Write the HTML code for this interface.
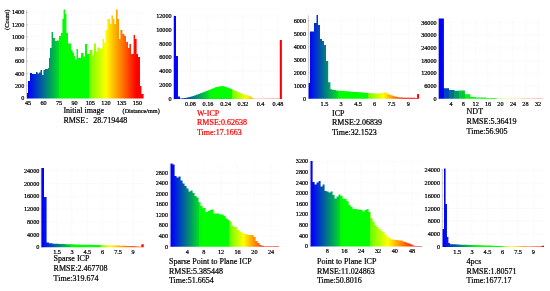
<!DOCTYPE html>
<html lang="en"><head><meta charset="utf-8"><title>Registration error histograms</title>
<style>html,body{margin:0;padding:0;background:#fff}body{width:550px;height:291px;overflow:hidden}svg{display:block}text{font-family:"Liberation Serif","Noto Serif CJK SC",serif;fill:#000;stroke:#000;stroke-width:0.22px;paint-order:stroke}.t{font-size:6.2px}.c{font-size:8px}.g{stroke:#f7f7f7;stroke-width:0.6}.a{stroke:#a8a8a8;stroke-width:0.6}</style></head><body>
<svg width="550" height="291" viewBox="0 0 550 291">
<defs>
<linearGradient id="gp1" gradientUnits="userSpaceOnUse" x1="27" y1="0" x2="143.6" y2="0">
<stop offset="0" stop-color="#0000ff"/>
<stop offset="0.012" stop-color="#0000ff"/>
<stop offset="0.277" stop-color="#00e01f"/>
<stop offset="0.277" stop-color="#00f608"/>
<stop offset="0.317" stop-color="#00ff00"/>
<stop offset="0.5292" stop-color="#00ff00"/>
<stop offset="0.5292" stop-color="#68ff00"/>
<stop offset="0.675" stop-color="#ffff00"/>
<stop offset="0.9383" stop-color="#ff0000"/>
<stop offset="1" stop-color="#ff0000"/>
</linearGradient>
<linearGradient id="gp2" gradientUnits="userSpaceOnUse" x1="174" y1="0" x2="281.6" y2="0">
<stop offset="0" stop-color="#0000ff"/>
<stop offset="0.012" stop-color="#0000ff"/>
<stop offset="0.3216" stop-color="#00e01f"/>
<stop offset="0.3216" stop-color="#00f608"/>
<stop offset="0.3616" stop-color="#00ff00"/>
<stop offset="0.5344" stop-color="#00ff00"/>
<stop offset="0.5344" stop-color="#68ff00"/>
<stop offset="0.6719" stop-color="#ffff00"/>
<stop offset="0.9108" stop-color="#ff0000"/>
<stop offset="1" stop-color="#ff0000"/>
</linearGradient>
<linearGradient id="gp3" gradientUnits="userSpaceOnUse" x1="308" y1="0" x2="419" y2="0">
<stop offset="0" stop-color="#0000ff"/>
<stop offset="0.012" stop-color="#0000ff"/>
<stop offset="0.2703" stop-color="#00e01f"/>
<stop offset="0.2703" stop-color="#00f608"/>
<stop offset="0.3103" stop-color="#00ff00"/>
<stop offset="0.5378" stop-color="#00ff00"/>
<stop offset="0.5378" stop-color="#68ff00"/>
<stop offset="0.6802" stop-color="#ffff00"/>
<stop offset="0.8739" stop-color="#ff0000"/>
<stop offset="1" stop-color="#ff0000"/>
</linearGradient>
<linearGradient id="gp4" gradientUnits="userSpaceOnUse" x1="439" y1="0" x2="543" y2="0">
<stop offset="0" stop-color="#0000ff"/>
<stop offset="0.0471" stop-color="#0000ff"/>
<stop offset="0.0471" stop-color="#0044bd"/>
<stop offset="0.0971" stop-color="#0044bd"/>
<stop offset="0.0971" stop-color="#006e91"/>
<stop offset="0.149" stop-color="#006e91"/>
<stop offset="0.149" stop-color="#009b64"/>
<stop offset="0.1962" stop-color="#009b64"/>
<stop offset="0.1962" stop-color="#00c837"/>
<stop offset="0.249" stop-color="#00c837"/>
<stop offset="0.249" stop-color="#00f60a"/>
<stop offset="0.3019" stop-color="#00f60a"/>
<stop offset="0.3019" stop-color="#00ff00"/>
<stop offset="0.349" stop-color="#00ff00"/>
<stop offset="0.5481" stop-color="#00ff00"/>
<stop offset="0.5481" stop-color="#68ff00"/>
<stop offset="0.6731" stop-color="#ffff00"/>
<stop offset="1.0481" stop-color="#ff0000"/>
<stop offset="1" stop-color="#ff0000"/>
</linearGradient>
<linearGradient id="gp5" gradientUnits="userSpaceOnUse" x1="41.4" y1="0" x2="143.6" y2="0">
<stop offset="0" stop-color="#0000ff"/>
<stop offset="0.012" stop-color="#0000ff"/>
<stop offset="0.2935" stop-color="#00e01f"/>
<stop offset="0.2935" stop-color="#00f608"/>
<stop offset="0.3335" stop-color="#00ff00"/>
<stop offset="0.5734" stop-color="#00ff00"/>
<stop offset="0.5734" stop-color="#68ff00"/>
<stop offset="0.6663" stop-color="#ffff00"/>
<stop offset="1.0235" stop-color="#ff0000"/>
<stop offset="1" stop-color="#ff0000"/>
</linearGradient>
<linearGradient id="gp6" gradientUnits="userSpaceOnUse" x1="170.6" y1="0" x2="270" y2="0">
<stop offset="0" stop-color="#0000ff"/>
<stop offset="0.012" stop-color="#0000ff"/>
<stop offset="0.2887" stop-color="#00e01f"/>
<stop offset="0.2887" stop-color="#00f608"/>
<stop offset="0.3287" stop-color="#00ff00"/>
<stop offset="0.5905" stop-color="#00ff00"/>
<stop offset="0.5905" stop-color="#68ff00"/>
<stop offset="0.7324" stop-color="#ffff00"/>
<stop offset="0.9799" stop-color="#ff0000"/>
<stop offset="1" stop-color="#ff0000"/>
</linearGradient>
<linearGradient id="gp7" gradientUnits="userSpaceOnUse" x1="310.6" y1="0" x2="418" y2="0">
<stop offset="0" stop-color="#0000ff"/>
<stop offset="0.012" stop-color="#0000ff"/>
<stop offset="0.2775" stop-color="#00e01f"/>
<stop offset="0.2775" stop-color="#00f608"/>
<stop offset="0.3175" stop-color="#00ff00"/>
<stop offset="0.5568" stop-color="#00ff00"/>
<stop offset="0.5568" stop-color="#68ff00"/>
<stop offset="0.7188" stop-color="#ffff00"/>
<stop offset="0.9814" stop-color="#ff0000"/>
<stop offset="1" stop-color="#ff0000"/>
</linearGradient>
<linearGradient id="gp8" gradientUnits="userSpaceOnUse" x1="442.6" y1="0" x2="544" y2="0">
<stop offset="0" stop-color="#0000ff"/>
<stop offset="0.012" stop-color="#0000ff"/>
<stop offset="0.2959" stop-color="#00e01f"/>
<stop offset="0.2959" stop-color="#00f608"/>
<stop offset="0.3359" stop-color="#00ff00"/>
<stop offset="0.5917" stop-color="#00ff00"/>
<stop offset="0.5917" stop-color="#68ff00"/>
<stop offset="0.6844" stop-color="#ffff00"/>
<stop offset="0.9408" stop-color="#ff0000"/>
<stop offset="1" stop-color="#ff0000"/>
</linearGradient>
</defs>
<rect width="550" height="291" fill="#fff"/>
<g id="p1">
<path class="g" fill="none" d="M26.5 12.4H144M26.5 24.6H144M26.5 36.8H144M26.5 49H144M26.5 61.3H144M26.5 73.5H144M26.5 85.8H144M28 9.9V98.6M43.5 9.9V98.6M59 9.9V98.6M74.6 9.9V98.6M90.3 9.9V98.6M106 9.9V98.6M121.6 9.9V98.6M137.4 9.9V98.6"/>
<path class="a" fill="none" d="M26.5 9.9V98.6M26.5 12.4h1.2M26.5 24.6h1.2M26.5 36.8h1.2M26.5 49h1.2M26.5 61.3h1.2M26.5 73.5h1.2M26.5 85.8h1.2M26.5 98.3h1.2"/>
<path fill="url(#gp1)" d="M27 98.6L27 93L28 93L28 81L30 81L30 73L32 73L32 74L36 74L36 72L37.5 72L37.5 73.5L39 73.5L39 72.5L40.5 72.5L40.5 70L42 70L42 75L43.5 75L43.5 70L45 70L45 69L48 69L48 68L49 68L49 58L50 58L50 48L51.6 48L51.6 32L53 32L53 38L55 38L55 41L57 41L57 40.5L59 40.5L59 36L61 36L61 33L62.4 33L62.4 19L63.6 19L63.6 9.6L65 9.6L65 14L66.4 14L66.4 33L68 33L68 43.5L71 43.5L71 50L72.5 50L72.5 52.5L74 52.5L74 56L75 56L75 59.5L76.5 59.5L76.5 49L78 49L78 58L81 58L81 53L83.5 53L83.5 56.5L85 56.5L85 44L87 44L87 54L89.5 54L89.5 50L92.5 50L92.5 55.5L94 55.5L94 43.5L96 43.5L96 51.5L97.5 51.5L97.5 47.5L100 47.5L100 48.5L102.5 48.5L102.5 39L104 39L104 42.5L105.6 42.5L105.6 30L107.4 30L107.4 19L110 19L110 24L111.4 24L111.4 15.6L113 15.6L113 19L114.4 19L114.4 24L116 24L116 9.6L117.6 9.6L117.6 19L119 19L119 39L120.4 39L120.4 30L122.4 30L122.4 34L124.4 34L124.4 36L126 36L126 42L128 42L128 48L129.4 48L129.4 44L131 44L131 54L133.6 54L133.6 35L135 35L135 39L136.6 39L136.6 54L138 54L138 57L140 57L140 86L141.4 86L141.4 94L143.6 94L143.6 98.6Z"/>
<text class="t" text-anchor="end" x="24.3" y="14.45">1400</text>
<text class="t" text-anchor="end" x="24.3" y="26.65">1200</text>
<text class="t" text-anchor="end" x="24.3" y="38.85">1000</text>
<text class="t" text-anchor="end" x="24.3" y="51.05">800</text>
<text class="t" text-anchor="end" x="24.3" y="63.35">600</text>
<text class="t" text-anchor="end" x="24.3" y="75.55">400</text>
<text class="t" text-anchor="end" x="24.3" y="87.85">200</text>
<text class="t" text-anchor="end" x="24.3" y="100.35">0</text>
<text class="t" text-anchor="middle" x="28" y="105.25">45</text>
<text class="t" text-anchor="middle" x="43.5" y="105.25">60</text>
<text class="t" text-anchor="middle" x="59" y="105.25">75</text>
<text class="t" text-anchor="middle" x="74.6" y="105.25">90</text>
<text class="t" text-anchor="middle" x="90.3" y="105.25">105</text>
<text class="t" text-anchor="middle" x="106" y="105.25">120</text>
<text class="t" text-anchor="middle" x="121.6" y="105.25">135</text>
<text class="t" text-anchor="middle" x="137.4" y="105.25">150</text>
<text class="c" x="63.4" y="113" style="fill:#000;stroke:#000">Initial image</text>
<text class="c" x="63.4" y="123" style="fill:#000;stroke:#000">RMSE：28.719448</text>
</g>
<g id="p2">
<path class="g" fill="none" d="M173.5 16H282M173.5 29.8H282M173.5 43.6H282M173.5 57.4H282M173.5 71.2H282M173.5 85H282M190.5 16.3V99M208 16.3V99M225.6 16.3V99M243 16.3V99M260.5 16.3V99M278 16.3V99"/>
<path class="a" fill="none" d="M173.5 16.3V99M173.5 16h1.2M173.5 29.8h1.2M173.5 43.6h1.2M173.5 57.4h1.2M173.5 71.2h1.2M173.5 85h1.2M173.5 99.3h1.2"/>
<path fill="url(#gp2)" d="M174 99L174 16L176 16L176 56L178 56L178 96.4L180 96.4L180 98.54L181 98.54L181 98.42L182 98.42L182 98.3L183 98.3L183 98.18L184 98.18L184 98.06L185 98.06L185 97.9L186 97.9L186 97.7L187 97.7L187 97.5L188 97.5L188 97.3L189 97.3L189 97.1L190 97.1L190 96.84L191 96.84L191 96.52L192 96.52L192 96.2L193 96.2L193 95.88L194 95.88L194 95.56L195 95.56L195 95.21L196 95.21L196 94.83L197 94.83L197 94.45L198 94.45L198 94.07L199 94.07L199 93.69L200 93.69L200 93.31L201 93.31L201 92.94L202 92.94L202 92.56L203 92.56L203 92.19L204 92.19L204 91.81L205 91.81L205 91.44L206 91.44L206 91.06L207 91.06L207 90.69L208 90.69L208 90.29L209 90.29L209 89.86L210 89.86L210 89.44L211 89.44L211 89.01L212 89.01L212 88.58L213 88.58L213 88.15L214 88.15L214 87.72L215 87.72L215 87.37L216 87.37L216 87.1L217 87.1L217 86.83L218 86.83L218 86.62L219 86.62L219 86.45L220 86.45L220 86.28L221 86.28L221 86.15L222.2 86.15L222.2 86.05L223.4 86.05L223.4 86.19L224.47 86.19L224.47 86.56L225.55 86.56L225.55 86.94L226.62 86.94L226.62 87.31L227.7 87.31L227.7 87.71L228.76 87.71L228.76 88.13L229.82 88.13L229.82 88.55L230.88 88.55L230.88 88.97L231.94 88.97L231.94 89.39L233 89.39L233 89.82L233.93 89.82L233.93 90.25L234.87 90.25L234.87 90.68L235.8 90.68L235.8 91.12L236.73 91.12L236.73 91.55L237.67 91.55L237.67 91.98L238.6 91.98L238.6 92.41L239.68 92.41L239.68 92.83L240.76 92.83L240.76 93.25L241.84 93.25L241.84 93.67L242.92 93.67L242.92 94.09L244 94.09L244 94.42L245 94.42L245 94.65L246 94.65L246 94.88L247 94.88L247 95.2L248.25 95.2L248.25 95.6L249.5 95.6L249.5 96.1L250.5 96.1L250.5 96.7L251.5 96.7L251.5 97.35L252.25 97.35L252.25 98.05L253 98.05L253 98.46L254 98.46L254 98.58L255 98.58L255 98.69L256 98.69L256 98.78L279.8 98.78L279.8 40L281.9 40L281.9 99Z"/>
<text class="t" text-anchor="end" x="171.6" y="18.05">12000</text>
<text class="t" text-anchor="end" x="171.6" y="31.85">10000</text>
<text class="t" text-anchor="end" x="171.6" y="45.65">8000</text>
<text class="t" text-anchor="end" x="171.6" y="59.45">6000</text>
<text class="t" text-anchor="end" x="171.6" y="73.25">4000</text>
<text class="t" text-anchor="end" x="171.6" y="87.05">2000</text>
<text class="t" text-anchor="end" x="171.6" y="101.35">0</text>
<text class="t" text-anchor="middle" x="190.5" y="105.65">0.08</text>
<text class="t" text-anchor="middle" x="208" y="105.65">0.16</text>
<text class="t" text-anchor="middle" x="225.6" y="105.65">0.24</text>
<text class="t" text-anchor="middle" x="243" y="105.65">0.32</text>
<text class="t" text-anchor="middle" x="260.5" y="105.65">0.4</text>
<text class="t" text-anchor="middle" x="278" y="105.65">0.48</text>
<text class="c" x="197" y="115.8" style="fill:#ff0000;stroke:#ff0000">W-ICP</text>
<text class="c" x="197" y="125.2" style="fill:#ff0000;stroke:#ff0000">RMSE:0.62638</text>
<text class="c" x="197" y="134.6" style="fill:#ff0000;stroke:#ff0000">Time:17.1663</text>
</g>
<g id="p3">
<path class="g" fill="none" d="M308.4 20.6H419.5M308.4 33.7H419.5M308.4 46.7H419.5M308.4 59.7H419.5M308.4 72.8H419.5M308.4 85.8H419.5M324.4 15.3V98.7M341 15.3V98.7M358 15.3V98.7M374.5 15.3V98.7M391.6 15.3V98.7M408.4 15.3V98.7"/>
<path class="a" fill="none" d="M308.4 15.3V98.7M308.4 20.6h1.2M308.4 33.7h1.2M308.4 46.7h1.2M308.4 59.7h1.2M308.4 72.8h1.2M308.4 85.8h1.2M308.4 98.8h1.2"/>
<path fill="url(#gp3)" d="M308.6 98.7L308.6 83L310 83L310 31.5L314 31.5L314 23L316.5 23L316.5 15L318 15L318 25L320 25L320 39L322 39L322 41L324 41L324 45L326 45L326 61L328.2 61L328.2 82.2L330.4 82.2L330.4 89.3L332 89.3L332 89.77L334 89.77L334 90.1L336 90.1L336 90.43L338 90.43L338 90.69L340.25 90.69L340.25 90.86L342.5 90.86L342.5 91.04L344.75 91.04L344.75 91.21L347 91.21L347 91.37L348.83 91.37L348.83 91.5L350.67 91.5L350.67 91.63L352.5 91.63L352.5 91.77L354.33 91.77L354.33 91.9L356.17 91.9L356.17 92.03L358 92.03L358 92.19L360 92.19L360 92.37L362 92.37L362 92.55L364 92.55L364 92.73L366 92.73L366 92.91L368 92.91L368 93.06L370 93.06L370 93.19L372 93.19L372 93.31L374 93.31L374 93.44L376 93.44L376 93.42L378.5 93.42L378.5 93.28L381 93.28L381 92.9L382.8 92.9L382.8 92.3L384.6 92.3L384.6 92.55L386.8 92.55L386.8 93.65L389 93.65L389 94.67L391.2 94.67L391.2 95.62L393.4 95.62L393.4 96.35L395.55 96.35L395.55 96.85L397.7 96.85L397.7 97.2L399.47 97.2L399.47 97.4L401.23 97.4L401.23 97.6L403 97.6L403 97.71L405.01 97.71L405.01 97.74L407.03 97.74L407.03 97.77L409.04 97.77L409.04 97.8L411.06 97.8L411.06 97.83L413.07 97.83L413.07 97.86L415.09 97.86L415.09 97.89L417.1 97.89L417.1 94L419 94L419 98.7Z"/>
<text class="t" text-anchor="end" x="306" y="22.65">6000</text>
<text class="t" text-anchor="end" x="306" y="35.75">5000</text>
<text class="t" text-anchor="end" x="306" y="48.75">4000</text>
<text class="t" text-anchor="end" x="306" y="61.75">3000</text>
<text class="t" text-anchor="end" x="306" y="74.85">2000</text>
<text class="t" text-anchor="end" x="306" y="87.85">1000</text>
<text class="t" text-anchor="end" x="306" y="100.85">0</text>
<text class="t" text-anchor="middle" x="324.4" y="105.55">1.5</text>
<text class="t" text-anchor="middle" x="341" y="105.55">3</text>
<text class="t" text-anchor="middle" x="358" y="105.55">4.5</text>
<text class="t" text-anchor="middle" x="374.5" y="105.55">6</text>
<text class="t" text-anchor="middle" x="391.6" y="105.55">7.5</text>
<text class="t" text-anchor="middle" x="408.4" y="105.55">9</text>
<text class="c" x="332" y="115.6" style="fill:#000;stroke:#000">ICP</text>
<text class="c" x="332" y="125.1" style="fill:#000;stroke:#000">RMSE:2.06839</text>
<text class="c" x="332" y="134.6" style="fill:#000;stroke:#000">Time:32.1523</text>
</g>
<g id="p4">
<path class="g" fill="none" d="M438.8 22.6H544M438.8 35.3H544M438.8 48H544M438.8 60.7H544M438.8 73.4H544M438.8 86H544M451 18.7V98.8M463.4 18.7V98.8M475.7 18.7V98.8M488 18.7V98.8M500.4 18.7V98.8M513 18.7V98.8M525.4 18.7V98.8M538 18.7V98.8"/>
<path class="a" fill="none" d="M438.8 18.7V98.8M438.8 22.6h1.2M438.8 35.3h1.2M438.8 48h1.2M438.8 60.7h1.2M438.8 73.4h1.2M438.8 86h1.2M438.8 98.7h1.2"/>
<path fill="url(#gp4)" d="M438.8 98.8L438.8 18.4L443.9 18.4L443.9 88.2L449.1 88.2L449.1 90L454.5 90L454.5 90.7L459.4 90.7L459.4 90.4L464.9 90.4L464.9 94.2L470.4 94.2L470.4 96.9L475.3 96.9L475.3 97.5L486 97.5L486 98L497 98L497 98.45L542.7 98.45L542.7 98.8Z"/>
<text class="t" text-anchor="end" x="436.6" y="24.65">36000</text>
<text class="t" text-anchor="end" x="436.6" y="37.35">30000</text>
<text class="t" text-anchor="end" x="436.6" y="50.05">24000</text>
<text class="t" text-anchor="end" x="436.6" y="62.75">18000</text>
<text class="t" text-anchor="end" x="436.6" y="75.45">12000</text>
<text class="t" text-anchor="end" x="436.6" y="88.05">6000</text>
<text class="t" text-anchor="end" x="436.6" y="100.75">0</text>
<text class="t" text-anchor="middle" x="451" y="106.05">4</text>
<text class="t" text-anchor="middle" x="463.4" y="106.05">8</text>
<text class="t" text-anchor="middle" x="475.7" y="106.05">12</text>
<text class="t" text-anchor="middle" x="488" y="106.05">16</text>
<text class="t" text-anchor="middle" x="500.4" y="106.05">20</text>
<text class="t" text-anchor="middle" x="513" y="106.05">24</text>
<text class="t" text-anchor="middle" x="525.4" y="106.05">28</text>
<text class="t" text-anchor="middle" x="538" y="106.05">32</text>
<text class="c" x="466.6" y="113.6" style="fill:#000;stroke:#000">NDT</text>
<text class="c" x="466.6" y="123.7" style="fill:#000;stroke:#000">RMSE:5.36419</text>
<text class="c" x="466.6" y="133.7" style="fill:#000;stroke:#000">Time:56.905</text>
</g>
<g id="p5">
<path class="g" fill="none" d="M41.2 170.7H144M41.2 183.6H144M41.2 196.4H144M41.2 209.1H144M41.2 221.8H144M41.2 234.6H144M57 168.3V247.2M72 168.3V247.2M87.3 168.3V247.2M102.6 168.3V247.2M118 168.3V247.2M133 168.3V247.2"/>
<path class="a" fill="none" d="M41.2 168.3V247.2M41.2 170.7h1.2M41.2 183.6h1.2M41.2 196.4h1.2M41.2 209.1h1.2M41.2 221.8h1.2M41.2 234.6h1.2M41.2 247.4h1.2"/>
<path fill="url(#gp5)" d="M41.4 247.2L41.4 168L44 168L44 197L46.6 197L46.6 242.4L49 242.4L49 243.35L52.5 243.35L52.5 243.65L56 243.65L56 243.85L59 243.85L59 243.95L62 243.95L62 244.05L65 244.05L65 244.15L68 244.15L68 244.25L71 244.25L71 244.35L74 244.35L74 244.45L77 244.45L77 244.55L80 244.55L80 244.63L83 244.63L83 244.7L86 244.7L86 244.77L89 244.77L89 244.83L92 244.83L92 244.9L95 244.9L95 244.97L98 244.97L98 245.04L101.14 245.04L101.14 245.13L104.29 245.13L104.29 245.21L107.43 245.21L107.43 245.3L110.57 245.3L110.57 245.39L113.71 245.39L113.71 245.47L116.86 245.47L116.86 245.56L120 245.56L120 245.66L123.25 245.66L123.25 245.79L126.5 245.79L126.5 245.91L129.75 245.91L129.75 246.04L133 246.04L133 246.21L135.77 246.21L135.77 246.43L138.53 246.43L138.53 246.64L141.3 246.64L141.3 244.2L143.7 244.2L143.7 247.2Z"/>
<text class="t" text-anchor="end" x="39.4" y="172.75">24000</text>
<text class="t" text-anchor="end" x="39.4" y="185.65">20000</text>
<text class="t" text-anchor="end" x="39.4" y="198.45">16000</text>
<text class="t" text-anchor="end" x="39.4" y="211.15">12000</text>
<text class="t" text-anchor="end" x="39.4" y="223.85">8000</text>
<text class="t" text-anchor="end" x="39.4" y="236.65">4000</text>
<text class="t" text-anchor="end" x="39.4" y="249.45">0</text>
<text class="t" text-anchor="middle" x="57" y="254.05">1.5</text>
<text class="t" text-anchor="middle" x="72" y="254.05">3</text>
<text class="t" text-anchor="middle" x="87.3" y="254.05">4.5</text>
<text class="t" text-anchor="middle" x="102.6" y="254.05">6</text>
<text class="t" text-anchor="middle" x="118" y="254.05">7.5</text>
<text class="t" text-anchor="middle" x="133" y="254.05">9</text>
<text class="c" x="53.6" y="261.4" style="fill:#000;stroke:#000">Sparse ICP</text>
<text class="c" x="53.6" y="271.2" style="fill:#000;stroke:#000">RMSE:2.467708</text>
<text class="c" x="53.6" y="280.8" style="fill:#000;stroke:#000">Time:319.674</text>
</g>
<g id="p6">
<path class="g" fill="none" d="M170.2 172.6H279M170.2 183.2H279M170.2 193.8H279M170.2 204.3H279M170.2 214.8H279M170.2 225.4H279M170.2 236H279M187.4 163.9V246.8M203.8 163.9V246.8M221 163.9V246.8M237.6 163.9V246.8M254.4 163.9V246.8M271 163.9V246.8"/>
<path class="a" fill="none" d="M170.2 163.9V246.8M170.2 172.6h1.2M170.2 183.2h1.2M170.2 193.8h1.2M170.2 204.3h1.2M170.2 214.8h1.2M170.2 225.4h1.2M170.2 236h1.2M170.2 246.7h1.2"/>
<path fill="url(#gp6)" d="M170.6 246.8L170.6 163.6L172.6 163.6L172.6 164.6L174.6 164.6L174.6 176L176.6 176L176.6 177.6L178.6 177.6L178.6 176.6L180.6 176.6L180.6 180.4L182.6 180.4L182.6 183.4L184.6 183.4L184.6 186L186.6 186L186.6 188.4L188.6 188.4L188.6 191.6L190.6 191.6L190.6 190.4L192.6 190.4L192.6 193L194.6 193L194.6 196L196.6 196L196.6 197.6L198.6 197.6L198.6 202.2L200.6 202.2L200.6 206L202.6 206L202.6 208L205.6 208L205.6 212L207.6 212L207.6 211L209.6 211L209.6 210L211.6 210L211.6 209.4L213.6 209.4L213.6 213.4L219.6 213.4L219.6 214.5L223.6 214.5L223.6 216L225.6 216L225.6 218.4L227.6 218.4L227.6 219.8L229.6 219.8L229.6 221.4L231.6 221.4L231.6 225.4L233.6 225.4L233.6 226.8L237 226.8L237 230L239.6 230L239.6 231.4L241.6 231.4L241.6 232.8L243.6 232.8L243.6 234L247.6 234L247.6 235L253.6 235L253.6 237L255.6 237L255.6 241L257.6 241L257.6 243L259.6 243L259.6 245L261.6 245L261.6 245.8L264 245.8L264 246.3L279 246.3L279 246.8Z"/>
<text class="t" text-anchor="end" x="168" y="174.65">2800</text>
<text class="t" text-anchor="end" x="168" y="185.25">2400</text>
<text class="t" text-anchor="end" x="168" y="195.85">2000</text>
<text class="t" text-anchor="end" x="168" y="206.35">1600</text>
<text class="t" text-anchor="end" x="168" y="216.85">1200</text>
<text class="t" text-anchor="end" x="168" y="227.45">800</text>
<text class="t" text-anchor="end" x="168" y="238.05">400</text>
<text class="t" text-anchor="end" x="168" y="248.75">0</text>
<text class="t" text-anchor="middle" x="187.4" y="254.05">4</text>
<text class="t" text-anchor="middle" x="203.8" y="254.05">8</text>
<text class="t" text-anchor="middle" x="221" y="254.05">12</text>
<text class="t" text-anchor="middle" x="237.6" y="254.05">16</text>
<text class="t" text-anchor="middle" x="254.4" y="254.05">20</text>
<text class="t" text-anchor="middle" x="271" y="254.05">24</text>
<text class="c" x="169" y="264.2" style="fill:#000;stroke:#000">Sparse Point to Plane ICP</text>
<text class="c" x="169" y="273.8" style="fill:#000;stroke:#000">RMSE:5.385448</text>
<text class="c" x="169" y="283.2" style="fill:#000;stroke:#000">Time:51.6654</text>
</g>
<g id="p7">
<path class="g" fill="none" d="M310.2 161.4H422M310.2 172H422M310.2 182.6H422M310.2 193.2H422M310.2 203.8H422M310.2 214.4H422M310.2 225H422M310.2 235.7H422M327.4 161.3V246.4M344.4 161.3V246.4M361.2 161.3V246.4M378 161.3V246.4M394.8 161.3V246.4M412 161.3V246.4"/>
<path class="a" fill="none" d="M310.2 161.3V246.4M310.2 161.4h1.2M310.2 172h1.2M310.2 182.6h1.2M310.2 193.2h1.2M310.2 203.8h1.2M310.2 214.4h1.2M310.2 225h1.2M310.2 235.7h1.2M310.2 246.3h1.2"/>
<path fill="url(#gp7)" d="M310.6 246.4L310.6 161L312.6 161L312.6 182L314.6 182L314.6 184.4L316.6 184.4L316.6 182.6L318.6 182.6L318.6 181L320.6 181L320.6 186.6L322.6 186.6L322.6 184.6L324.6 184.6L324.6 191L326.6 191L326.6 191.6L328.6 191.6L328.6 192.6L330.6 192.6L330.6 191.6L332.6 191.6L332.6 195L334.6 195L334.6 198.6L336.6 198.6L336.6 196.4L338.6 196.4L338.6 194.4L340.6 194.4L340.6 196L342.6 196L342.6 198.6L344.6 198.6L344.6 199L346.6 199L346.6 201.2L348.6 201.2L348.6 205L350.6 205L350.6 207L352.6 207L352.6 209L356.6 209L356.6 209.4L360.6 209.4L360.6 210L362.6 210L362.6 211.4L364.6 211.4L364.6 210L366.6 210L366.6 209L368.6 209L368.6 212L370.6 212L370.6 218L372.6 218L372.6 221.6L374.6 221.6L374.6 225L376.6 225L376.6 227L378.6 227L378.6 229L380.6 229L380.6 230.4L382.6 230.4L382.6 232L384.6 232L384.6 234.4L386.6 234.4L386.6 236.4L388.6 236.4L388.6 238L390.6 238L390.6 239.4L394.6 239.4L394.6 240L398.6 240L398.6 240.6L402.6 240.6L402.6 241.4L404.6 241.4L404.6 242L406.6 242L406.6 243L408.6 243L408.6 243.6L410.6 243.6L410.6 244.6L412.6 244.6L412.6 245.4L414.6 245.4L414.6 245.9L422 245.9L422 246.4Z"/>
<text class="t" text-anchor="end" x="308.2" y="163.45">3200</text>
<text class="t" text-anchor="end" x="308.2" y="174.05">2800</text>
<text class="t" text-anchor="end" x="308.2" y="184.65">2400</text>
<text class="t" text-anchor="end" x="308.2" y="195.25">2000</text>
<text class="t" text-anchor="end" x="308.2" y="205.85">1600</text>
<text class="t" text-anchor="end" x="308.2" y="216.45">1200</text>
<text class="t" text-anchor="end" x="308.2" y="227.05">800</text>
<text class="t" text-anchor="end" x="308.2" y="237.75">400</text>
<text class="t" text-anchor="end" x="308.2" y="248.35">0</text>
<text class="t" text-anchor="middle" x="327.4" y="253.35">8</text>
<text class="t" text-anchor="middle" x="344.4" y="253.35">16</text>
<text class="t" text-anchor="middle" x="361.2" y="253.35">24</text>
<text class="t" text-anchor="middle" x="378" y="253.35">32</text>
<text class="t" text-anchor="middle" x="394.8" y="253.35">40</text>
<text class="t" text-anchor="middle" x="412" y="253.35">48</text>
<text class="c" x="317" y="264.2" style="fill:#000;stroke:#000">Point to Plane ICP</text>
<text class="c" x="317" y="273.7" style="fill:#000;stroke:#000">RMSE:11.024863</text>
<text class="c" x="317" y="283.2" style="fill:#000;stroke:#000">Time:50.8016</text>
</g>
<g id="p8">
<path class="g" fill="none" d="M442.3 170.4H544M442.3 183.1H544M442.3 195.8H544M442.3 208.5H544M442.3 221.2H544M442.3 234H544M457.2 168.9V246.9M472 168.9V246.9M487.4 168.9V246.9M502.6 168.9V246.9M518 168.9V246.9M533.4 168.9V246.9"/>
<path class="a" fill="none" d="M442.3 168.9V246.9M442.3 170.4h1.2M442.3 183.1h1.2M442.3 195.8h1.2M442.3 208.5h1.2M442.3 221.2h1.2M442.3 234h1.2M442.3 246.7h1.2"/>
<path fill="url(#gp8)" d="M442.6 246.9L442.6 229L444 229L444 168.6L445.6 168.6L445.6 204L447 204L447 237L448.4 237L448.4 243L450 243L450 244.18L453.33 244.18L453.33 244.35L456.67 244.35L456.67 244.52L460 244.52L460 244.64L462.86 244.64L462.86 244.73L465.71 244.73L465.71 244.81L468.57 244.81L468.57 244.9L471.43 244.9L471.43 244.99L474.29 244.99L474.29 245.07L477.14 245.07L477.14 245.16L480 245.16L480 245.26L483 245.26L483 245.38L486 245.38L486 245.5L489 245.5L489 245.62L492 245.62L492 245.74L495 245.74L495 245.88L498.33 245.88L498.33 246.03L501.67 246.03L501.67 246.18L505 246.18L505 246.26L508.08 246.26L508.08 246.28L511.17 246.28L511.17 246.29L514.25 246.29L514.25 246.31L517.33 246.31L517.33 246.32L520.42 246.32L520.42 246.34L523.5 246.34L523.5 246.36L526.58 246.36L526.58 246.38L529.67 246.38L529.67 246.39L532.75 246.39L532.75 246.41L535.83 246.41L535.83 246.42L538.92 246.42L538.92 246.44L542 246.44L542 245.7L544 245.7L544 246.9Z"/>
<text class="t" text-anchor="end" x="440" y="172.45">24000</text>
<text class="t" text-anchor="end" x="440" y="185.15">20000</text>
<text class="t" text-anchor="end" x="440" y="197.85">16000</text>
<text class="t" text-anchor="end" x="440" y="210.55">12000</text>
<text class="t" text-anchor="end" x="440" y="223.25">8000</text>
<text class="t" text-anchor="end" x="440" y="236.05">4000</text>
<text class="t" text-anchor="end" x="440" y="248.75">0</text>
<text class="t" text-anchor="middle" x="457.2" y="253.65">1.5</text>
<text class="t" text-anchor="middle" x="472" y="253.65">3</text>
<text class="t" text-anchor="middle" x="487.4" y="253.65">4.5</text>
<text class="t" text-anchor="middle" x="502.6" y="253.65">6</text>
<text class="t" text-anchor="middle" x="518" y="253.65">7.5</text>
<text class="t" text-anchor="middle" x="533.4" y="253.65">9</text>
<text class="c" x="466.6" y="264.2" style="fill:#000;stroke:#000">4pcs</text>
<text class="c" x="466.6" y="273.7" style="fill:#000;stroke:#000">RMSE:1.80571</text>
<text class="c" x="466.6" y="283.2" style="fill:#000;stroke:#000">Time:1677.17</text>
</g>
<text class="t" style="font-size:6.5px" text-anchor="middle" transform="translate(9.3 19.8) rotate(-90)">(Count)</text>
<text class="t" x="122.6" y="112.5">(Distance/mm)</text>
</svg></body></html>
